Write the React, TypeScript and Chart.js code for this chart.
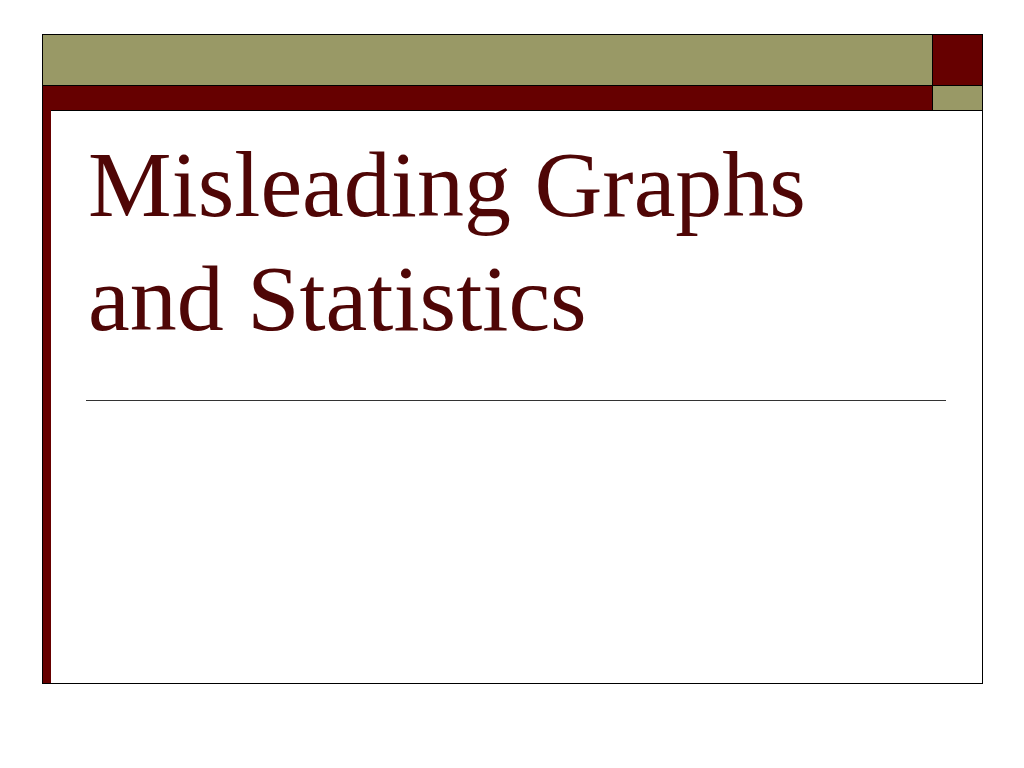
import React, { useEffect, useRef } from 'react';
import { Chart, registerables } from 'chart.js';

Chart.register(...registerables);

// --- Contenido de la diapositiva ---
const titleLines = ['Misleading Graphs', 'and Statistics'];
const categories: string[] = [];
const seriesValues: number[] = [];

const OLIVE = '#999966';
const MAROON = '#660000';
const TITLE_COLOR = '#4f0606';

const box = (left: number, top: number, width: number, height: number, bg: string): React.CSSProperties => ({
  position: 'absolute',
  left,
  top,
  width,
  height,
  background: bg,
  border: '1px solid #000',
  boxSizing: 'border-box',
});

export default function App() {
  const canvasRef = useRef<HTMLCanvasElement>(null);

  useEffect(() => {
    const ctx = canvasRef.current?.getContext('2d');
    if (!ctx) return;

    const chart = new Chart(ctx, {
      type: 'bar',
      data: {
        labels: categories,
        datasets: [{ data: seriesValues, backgroundColor: MAROON }],
      },
      options: {
        animation: false,
        responsive: true,
        maintainAspectRatio: false,
        layout: { padding: { left: 37, right: 0, top: 0, bottom: 0 } },
        scales: {
          x: { display: false },
          y: { display: false },
        },
        plugins: {
          legend: { display: false },
          tooltip: { enabled: false },
          title: {
            display: true,
            text: titleLines,
            align: 'start',
            color: TITLE_COLOR,
            font: { family: '"Liberation Serif", "Times New Roman", serif', size: 94, weight: 'normal', lineHeight: 1.213 },
            padding: { top: 23, bottom: 0 },
          },
        },
      },
    });

    return () => chart.destroy();
  }, []);

  return (
    <div style={{ position: 'absolute', left: 0, top: 0, width: 1024, height: 768, background: '#fff' }}>
      {/* marco */}
      <div style={box(42, 34, 941, 650, '#fff')} />
      {/* área del gráfico / título */}
      <div style={{ position: 'absolute', left: 51, top: 111, width: 930, height: 571 }}>
        <canvas ref={canvasRef}></canvas>
      </div>
      {/* bandas superiores */}
      <div style={box(42, 34, 891, 52, OLIVE)} />
      <div style={box(932, 34, 51, 52, MAROON)} />
      <div style={box(42, 85, 891, 26, MAROON)} />
      <div style={box(932, 85, 51, 26, OLIVE)} />
      {/* barra izquierda */}
      <div style={{ ...box(42, 110, 9, 574, MAROON), borderRight: 'none', borderTop: 'none' }} />
      {/* línea separadora */}
      <div style={{ position: 'absolute', left: 86, top: 400, width: 860, height: 1, background: '#333' }} />
    </div>
  );
}
